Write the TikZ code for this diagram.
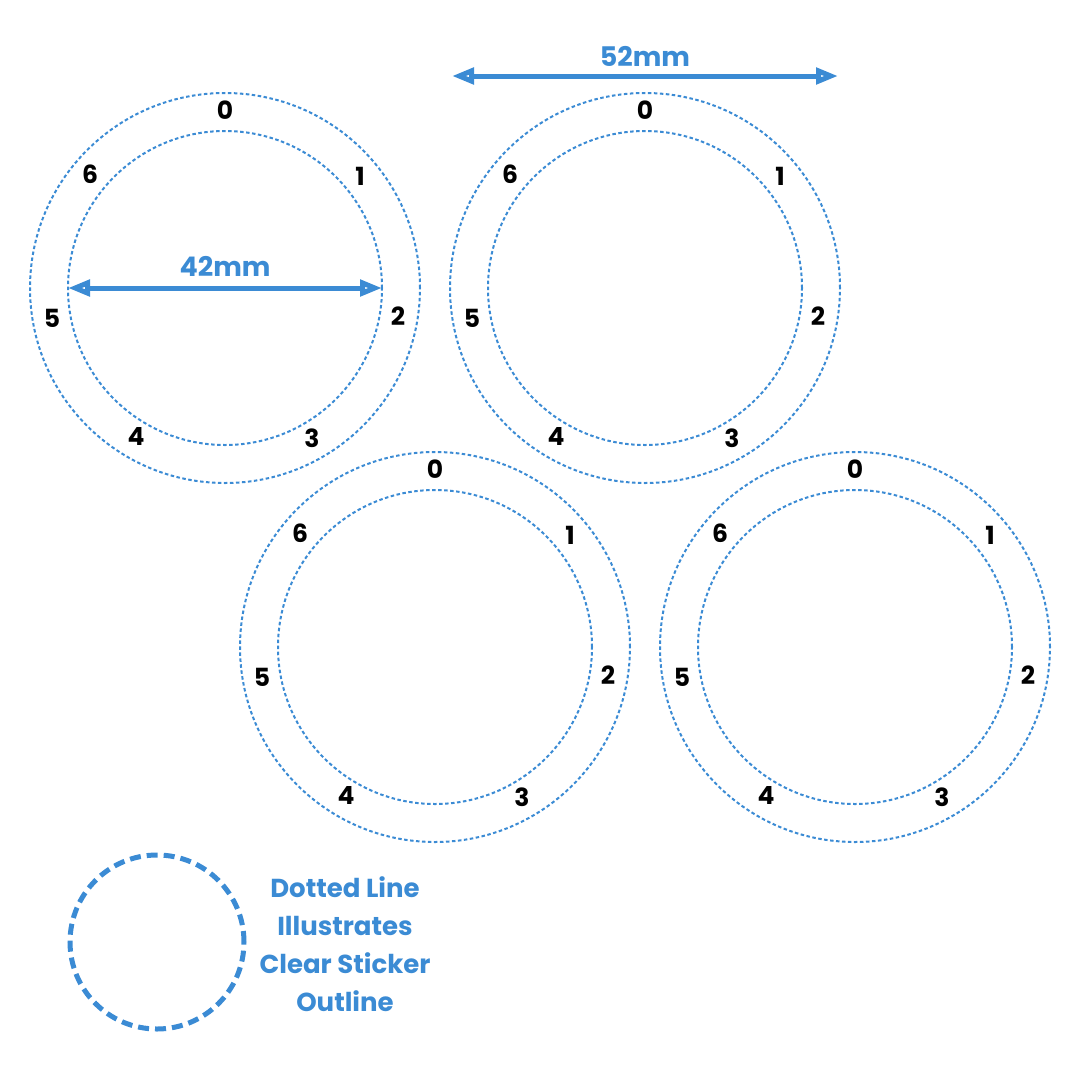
\documentclass[tikz,border=0pt]{standalone}
\usepackage{fontspec}
\setmainfont{Poppins}
\usetikzlibrary{arrows.meta}
\definecolor{bl}{HTML}{3B8BD4}
\begin{document}
\begin{tikzpicture}[x=1pt,y=-1pt,
  ring/.style={draw=bl,line width=2pt,dash pattern=on 3.5pt off 2.5pt},
  num/.style={font=\fontsize{25}{25}\selectfont\bfseries,text=black,inner sep=0},
  dim/.style={draw=bl,line width=5pt,{Triangle[open,length=22pt,width=16pt]}-{Triangle[open,length=22pt,width=16pt]}},
  dimlab/.style={font=\fontsize{27}{27}\selectfont\bfseries,text=bl,inner sep=0},
  leg/.style={font=\fontsize{26}{38}\selectfont\bfseries,text=bl,align=center,inner sep=0}]
\useasboundingbox (0,0) rectangle (1080,1080);
\foreach \n/\cx/\cy in {a/225/288,b/645/288,c/435/647,d/855/647}{
  \node[circle,ring,minimum size=390pt,inner sep=0] (\n o) at (\cx,\cy) {};
  \node[circle,ring,minimum size=314pt,inner sep=0] (\n i) at (\cx,\cy) {};
  \node[num] (\n 0) at (\cx+0,\cy-178) {0};
  \node[num] (\n 1) at (\cx+135,\cy-112) {1};
  \node[num] (\n 2) at (\cx+173,\cy+28) {2};
  \node[num] (\n 3) at (\cx+87,\cy+150) {3};
  \node[num] (\n 4) at (\cx-89,\cy+148) {4};
  \node[num] (\n 5) at (\cx-173,\cy+30) {5};
  \node[num] (\n 6) at (\cx-135,\cy-114) {6};
}
\coordinate (l1) at (68,288); \coordinate (r1) at (382,288);
\draw[dim] (l1) -- (r1);
\node[dimlab] (t1) at (225,266) {42mm};
\coordinate (l2) at (452,76); \coordinate (r2) at (838,76);
\draw[dim] (l2) -- (r2);
\node[dimlab] (t2) at (645,56) {52mm};
\node[circle,draw=bl,line width=5pt,dash pattern=on 11pt off 6pt,minimum size=174pt,inner sep=0] (lg) at (157,942) {};
\node[leg] (lt) at (345,944) {Dotted Line\\Illustrates\\Clear Sticker\\Outline};
\end{tikzpicture}
\end{document}
